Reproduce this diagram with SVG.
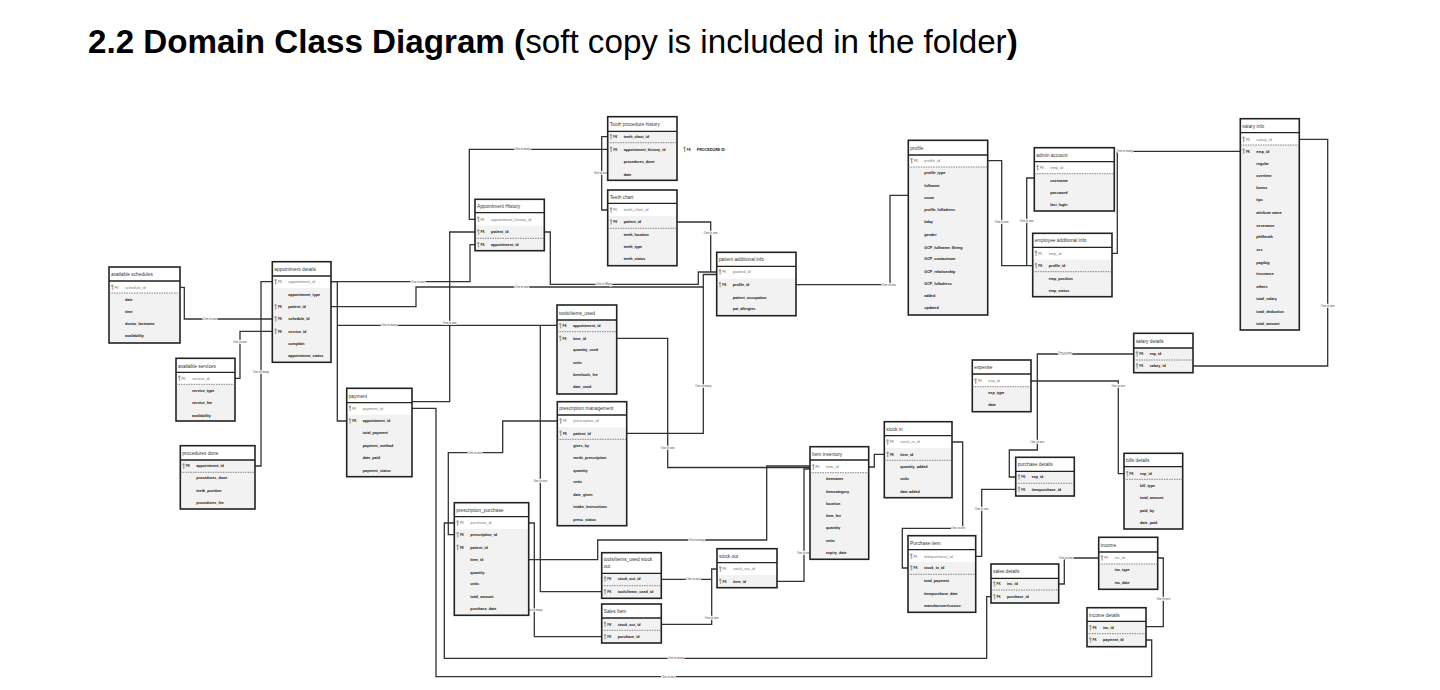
<svg xmlns="http://www.w3.org/2000/svg" xmlns:xlink="http://www.w3.org/1999/xlink" width="1440" height="690" viewBox="0 0 1440 690">
<style>
.ttl{font-family:"Liberation Sans",Arial,sans-serif;font-size:33.2px;fill:#000}
.bg{fill:#f2f2f2}
.w{fill:#fff}
.box{fill:none;stroke:#222;stroke-width:1.6}
.hl{stroke:#222;stroke-width:1.3}
.dl{stroke:#666;stroke-width:0.8;stroke-dasharray:1.5 1}
.t{font-family:"Liberation Sans",Arial,sans-serif;font-size:4.8px;fill:#333}
.f{font-family:"Liberation Sans",Arial,sans-serif;font-size:3.7px;font-weight:bold;fill:#111}
.p{font-family:"Liberation Sans",Arial,sans-serif;font-size:3.9px;fill:#777}
.k{font-family:"Liberation Sans",Arial,sans-serif;font-size:3px;font-weight:bold;fill:#222}
.kp{font-family:"Liberation Sans",Arial,sans-serif;font-size:3px;fill:#666}
.cn path{fill:none;stroke:#333;stroke-width:1.3}
.c{font-family:"Liberation Sans",Arial,sans-serif;font-size:2.8px;fill:#444;text-anchor:middle;paint-order:stroke;stroke:#fff;stroke-width:1.4}
</style>
<defs>
<g id="key"><circle cx="0" cy="0" r="1.2" fill="#9a9a9a"/><rect x="-0.45" y="0.8" width="0.9" height="3.6" fill="#9a9a9a"/><rect x="0.3" y="3.1" width="0.9" height="0.6" fill="#9a9a9a"/><rect x="0.3" y="2.1" width="0.7" height="0.5" fill="#9a9a9a"/></g>
</defs>
<rect width="1440" height="690" fill="#fff"/>
<text class="ttl" x="88" y="53"><tspan font-weight="bold">2.2 Domain Class Diagram (</tspan>soft copy is included in the folder<tspan font-weight="bold">)</tspan></text>

<g id="connectors" class="cn">
<path d="M180,287.3 H184.3 V319 H272.3"/>
<path d="M235,378.3 H240 V331.3 H272.3"/>
<path d="M255,466 H261 V281.7 H272.3"/>
<path d="M331,281.7 H337.3 V421 H346.7"/>
<path d="M331,281.7 H470 V244.7 H475"/>
<path d="M331,306.7 H416 V287 H703.3 V274.5 H716.7"/>
<path d="M337.3,325.3 H557"/>
<path d="M475,232 H449.7 V401.7 H412"/>
<path d="M544.3,232 H550.3 V284.3 H698.3 V272 H716.7"/>
<path d="M475,219.3 H469.3 V149.3 H607.7"/>
<path d="M607.7,136.7 H601.7 V210 H607.7"/>
<path d="M677,222 H710.7 V272"/>
<path d="M796,284.7 H890 V195.3 H908.3"/>
<path d="M987.7,160.7 H1001.7 V265.7 H1032.7"/>
<path d="M1034.3,178 H1026.7 V265.7"/>
<path d="M1112,253.3 H1117.3 V151.3 H1240.3"/>
<path d="M1299.3,139.3 H1327.7 V366 H1193"/>
<path d="M1133.7,354 H1037.3 V450 H1009.3 V477 H1015.7"/>
<path d="M1031,381 H1118.3 V473.7 H1124"/>
<path d="M1015.7,489.3 H981.7 V556.3 H975.7"/>
<path d="M952,442 H962.7 V528.3 H902.3 V568 H908"/>
<path d="M884.3,454.3 H874.3 V467 H868.7"/>
<path d="M777,581.3 H804 V469 H810"/>
<path d="M528.7,559.7 H597.7 V540 H766.7 V466 H810"/>
<path d="M616.7,338.3 H667.7 V467.5 H810"/>
<path d="M626.7,433.3 H703.3 V287"/>
<path d="M557.3,421 H502.7 V452.7 H448.3 V534.7 H454.3"/>
<path d="M540.3,325.7 V591.7 H601.7"/>
<path d="M528.7,523 H534.3 V636.7 H601.7"/>
<path d="M454.3,523 H444.3 V658.3 H986.7 V596.7 H991"/>
<path d="M412,408.3 H436 V676.7 H1151.7 V640 H1146"/>
<path d="M661.3,624.3 H711.7 V569 H717"/>
<path d="M661.3,579.3 H711.7"/>
<path d="M1098.7,558 H1064.3 V584 H1058.7"/>
<path d="M1157.7,558 H1163.3 V626.7 H1146"/>
<text class="c" x="210" y="320">One to one</text>
<text class="c" x="240" y="342.7">One to one</text>
<text class="c" x="261" y="372.7">One to many</text>
<text class="c" x="418" y="283">One to one</text>
<text class="c" x="521.7" y="288">One to one</text>
<text class="c" x="604" y="285.3">One to Many</text>
<text class="c" x="389.3" y="326.3">One to many</text>
<text class="c" x="449.7" y="324.3">One to one</text>
<text class="c" x="522.7" y="150.3">One to many</text>
<text class="c" x="601.7" y="174.3">One to many</text>
<text class="c" x="710.7" y="234.3">One to one</text>
<text class="c" x="889" y="285.7">One to one</text>
<text class="c" x="1001.7" y="223.3">One to one</text>
<text class="c" x="1026.7" y="222.3">One to one</text>
<text class="c" x="1125" y="152.3">One to many</text>
<text class="c" x="1327.7" y="307">One to one</text>
<text class="c" x="1065" y="354.3">One to one</text>
<text class="c" x="1037.3" y="443.3">One to one</text>
<text class="c" x="1118.3" y="387">One to one</text>
<text class="c" x="981.7" y="510.3">One to one</text>
<text class="c" x="958.3" y="529.3">One to one</text>
<text class="c" x="804" y="554.3">One to one</text>
<text class="c" x="696.7" y="541">One to many</text>
<text class="c" x="667.7" y="449.3">One to one</text>
<text class="c" x="703.3" y="386.5">One to many</text>
<text class="c" x="475" y="453.7">One to one</text>
<text class="c" x="540.3" y="481.7">One to one</text>
<text class="c" x="534.3" y="611">One to many</text>
<text class="c" x="676" y="659.3">One to many</text>
<text class="c" x="668.3" y="677.7">One to one</text>
<text class="c" x="711.7" y="619.3">One to one</text>
<text class="c" x="693.3" y="580.3">One to one</text>
<text class="c" x="1066" y="559">One to one</text>
<text class="c" x="1163.3" y="599.7">One to one</text>
</g>

<g id="available-schedules">
<rect class="bg" x="109" y="281" width="71" height="62"/><rect class="w" x="109" y="281" width="71" height="12"/>
<rect class="box" x="109" y="267" width="71" height="76"/><line class="hl" x1="109" y1="281" x2="180" y2="281"/><line class="dl" x1="109" y1="293" x2="180" y2="293"/>
<text class="t" x="111" y="276">available schedules</text>
<use href="#key" x="112.3" y="285.7"/><text class="kp" x="114.6" y="288.6">PK</text><text class="p" x="125" y="288.6">schedule_id</text>
<text class="f" x="125" y="300.6">date</text><text class="f" x="125" y="313">time</text><text class="f" x="125" y="325.3">doctor_lastname</text><text class="f" x="125" y="337.3">availability</text>
</g>

<g id="appointment-details">
<rect class="bg" x="272.3" y="276" width="58.7" height="86.3"/><rect class="w" x="272.3" y="276" width="58.7" height="12"/>
<rect class="box" x="272.3" y="261.7" width="58.7" height="100.6"/><line class="hl" x1="272.3" y1="276" x2="331" y2="276"/>
<text class="t" x="274.3" y="271">appointment details</text>
<use href="#key" x="275.6" y="280.1"/><text class="kp" x="277.9" y="283">PK</text><text class="p" x="288.3" y="283">appointment_id</text>
<text class="f" x="288.3" y="296">appointment_type</text>
<use href="#key" x="275.6" y="305.1"/><text class="k" x="277.9" y="308">FK</text><text class="f" x="288.3" y="308">patient_id</text>
<use href="#key" x="275.6" y="317.1"/><text class="k" x="277.9" y="320">FK</text><text class="f" x="288.3" y="320">schedule_id</text>
<use href="#key" x="275.6" y="329.7"/><text class="k" x="277.9" y="332.6">FK</text><text class="f" x="288.3" y="332.6">service_id</text>
<text class="f" x="288.3" y="344.6">complain</text><text class="f" x="288.3" y="357">appointment_status</text>
</g>

<g id="available-services">
<rect class="bg" x="176" y="372.3" width="59" height="48.7"/><rect class="w" x="176" y="372.3" width="59" height="12"/>
<rect class="box" x="176" y="358.3" width="59" height="62.7"/><line class="hl" x1="176" y1="372.3" x2="235" y2="372.3"/><line class="dl" x1="176" y1="384.3" x2="235" y2="384.3"/>
<text class="t" x="178" y="367.5">available services</text>
<use href="#key" x="179.3" y="376.7"/><text class="kp" x="181.6" y="379.6">PK</text><text class="p" x="192" y="379.6">service_id</text>
<text class="f" x="192" y="392.3">service_type</text><text class="f" x="192" y="404">service_fee</text><text class="f" x="192" y="416.6">availability</text>
</g>

<g id="procedures-done">
<rect class="bg" x="180.3" y="460" width="74.7" height="49"/>
<rect class="box" x="180.3" y="445.7" width="74.7" height="63.3"/><line class="hl" x1="180.3" y1="460" x2="255" y2="460"/><line class="dl" x1="180.3" y1="472.3" x2="255" y2="472.3"/>
<text class="t" x="182.3" y="455">procedures done</text>
<use href="#key" x="183.6" y="464.4"/><text class="k" x="185.9" y="467.3">FK</text><text class="f" x="196.3" y="467.3">appointment_id</text>
<text class="f" x="196.3" y="479">procedures_done</text><text class="f" x="196.3" y="491.6">teeth_position</text><text class="f" x="196.3" y="504">procedures_fee</text>
</g>

<g id="payment">
<rect class="bg" x="346.7" y="402.7" width="65.3" height="74"/><rect class="w" x="346.7" y="402.7" width="65.3" height="12"/>
<rect class="box" x="346.7" y="388.3" width="65.3" height="88.4"/><line class="hl" x1="346.7" y1="402.7" x2="412" y2="402.7"/>
<text class="t" x="348.7" y="397.8">payment</text>
<use href="#key" x="350" y="406.7"/><text class="kp" x="352.3" y="409.6">PK</text><text class="p" x="362.7" y="409.6">payment_id</text>
<use href="#key" x="350" y="419.4"/><text class="k" x="352.3" y="422.3">FK</text><text class="f" x="362.7" y="422.3">appointment_id</text>
<text class="f" x="362.7" y="434">total_payment</text><text class="f" x="362.7" y="446.6">payment_method</text><text class="f" x="362.7" y="459">date_paid</text><text class="f" x="362.7" y="471.6">payment_status</text>
</g>

<g id="appointment-history">
<rect class="bg" x="475" y="212.7" width="69.3" height="38"/><rect class="w" x="475" y="212.7" width="69.3" height="13"/>
<rect class="box" x="475" y="199.3" width="69.3" height="51.4"/><line class="hl" x1="475" y1="212.7" x2="544.3" y2="212.7"/><line class="dl" x1="475" y1="238.3" x2="544.3" y2="238.3"/>
<text class="t" x="477" y="208.2">Appointment History</text>
<use href="#key" x="478.3" y="217.7"/><text class="kp" x="480.6" y="220.6">PK</text><text class="p" x="491" y="220.6">appointment_history_id</text>
<use href="#key" x="478.3" y="230.4"/><text class="k" x="480.6" y="233.3">FK</text><text class="f" x="491" y="233.3">patient_id</text>
<use href="#key" x="478.3" y="243.1"/><text class="k" x="480.6" y="246">FK</text><text class="f" x="491" y="246">appointment_id</text>
</g>

<g id="tooth-procedure-history">
<rect class="bg" x="607.7" y="131.3" width="69.3" height="49"/>
<rect class="box" x="607.7" y="116.7" width="69.3" height="63.6"/><line class="hl" x1="607.7" y1="131.3" x2="677" y2="131.3"/><line class="dl" x1="607.7" y1="142.7" x2="677" y2="142.7"/>
<text class="t" x="609.7" y="125.8">Tooth procedure history</text>
<use href="#key" x="611" y="135.1"/><text class="k" x="613.3" y="138">FK</text><text class="f" x="623.7" y="138">teeth_chart_id</text>
<use href="#key" x="611" y="147.7"/><text class="k" x="613.3" y="150.6">FK</text><text class="f" x="623.7" y="150.6">appointment_history_id</text>
<text class="f" x="623.7" y="163.3">procedures_done</text><text class="f" x="623.7" y="175.6">date</text>
<use href="#key" x="684.5" y="147.7"/><text class="k" x="686.8" y="150.6">FK</text><text class="f" x="696.7" y="150.6">PROCEDURE ID</text>
</g>

<g id="teeth-chart">
<rect class="bg" x="607.7" y="203.3" width="69.3" height="62.4"/><rect class="w" x="607.7" y="203.3" width="69.3" height="12.7"/>
<rect class="box" x="607.7" y="190" width="69.3" height="75.7"/><line class="hl" x1="607.7" y1="203.3" x2="677" y2="203.3"/><line class="dl" x1="607.7" y1="228.3" x2="677" y2="228.3"/>
<text class="t" x="609.7" y="198.5">Teeth chart</text>
<use href="#key" x="611" y="208.4"/><text class="kp" x="613.3" y="211.3">PK</text><text class="p" x="623.7" y="211.3">teeth_chart_id</text>
<use href="#key" x="611" y="220.4"/><text class="k" x="613.3" y="223.3">FK</text><text class="f" x="623.7" y="223.3">patient_id</text>
<text class="f" x="623.7" y="236">teeth_location</text><text class="f" x="623.7" y="248.3">teeth_type</text><text class="f" x="623.7" y="260">teeth_status</text>
</g>

<g id="tools-items-used">
<rect class="bg" x="557" y="320" width="59.7" height="74"/>
<rect class="box" x="557" y="305" width="59.7" height="89"/><line class="hl" x1="557" y1="320" x2="616.7" y2="320"/><line class="dl" x1="557" y1="331.7" x2="616.7" y2="331.7"/>
<text class="t" x="559" y="314.5">tools/items_used</text>
<use href="#key" x="560.3" y="324.1"/><text class="k" x="562.6" y="327">FK</text><text class="f" x="573" y="327">appointment_id</text>
<use href="#key" x="560.3" y="336.7"/><text class="k" x="562.6" y="339.6">FK</text><text class="f" x="573" y="339.6">item_id</text>
<text class="f" x="573" y="351.3">quantity_used</text><text class="f" x="573" y="364">units</text><text class="f" x="573" y="376.3">item/tools_fee</text><text class="f" x="573" y="388">date_used</text>
</g>

<g id="prescription-management">
<rect class="bg" x="557.3" y="415" width="69.4" height="110.7"/><rect class="w" x="557.3" y="415" width="69.4" height="12.2"/>
<rect class="box" x="557.3" y="401.7" width="69.4" height="124"/><line class="hl" x1="557.3" y1="415" x2="626.7" y2="415"/><line class="dl" x1="557.3" y1="439.3" x2="626.7" y2="439.3"/>
<text class="t" x="559.3" y="410.4">prescription management</text>
<use href="#key" x="560.6" y="419.4"/><text class="kp" x="562.9" y="422.3">PK</text><text class="p" x="573.3" y="422.3">prescription_id</text>
<use href="#key" x="560.6" y="431.7"/><text class="k" x="562.9" y="434.6">FK</text><text class="f" x="573.3" y="434.6">patient_id</text>
<text class="f" x="573.3" y="446.6">gives_by</text><text class="f" x="573.3" y="459.3">meds_prescription</text><text class="f" x="573.3" y="471.6">quantity</text><text class="f" x="573.3" y="483.3">units</text><text class="f" x="573.3" y="496">date_given</text><text class="f" x="573.3" y="508.3">intake_instructions</text><text class="f" x="573.3" y="521">presc_status</text>
</g>

<g id="prescription-purchase">
<rect class="bg" x="454.3" y="516.7" width="74.4" height="98.6"/><rect class="w" x="454.3" y="516.7" width="74.4" height="12.3"/>
<rect class="box" x="454.3" y="502.7" width="74.4" height="112.6"/><line class="hl" x1="454.3" y1="516.7" x2="528.7" y2="516.7"/>
<text class="t" x="456.3" y="511.8">prescription_purchase</text>
<use href="#key" x="457.6" y="521.4"/><text class="kp" x="459.9" y="524.3">PK</text><text class="p" x="470.3" y="524.3">purchase_id</text>
<use href="#key" x="457.6" y="533.1"/><text class="k" x="459.9" y="536">FK</text><text class="f" x="470.3" y="536">prescription_id</text>
<use href="#key" x="457.6" y="545.7"/><text class="k" x="459.9" y="548.6">FK</text><text class="f" x="470.3" y="548.6">patient_id</text>
<text class="f" x="470.3" y="561">item_id</text><text class="f" x="470.3" y="573.6">quantity</text><text class="f" x="470.3" y="585.3">units</text><text class="f" x="470.3" y="598">total_amount</text><text class="f" x="470.3" y="610.3">purchase_date</text>
</g>

<g id="tools-items-used-stock-out">
<rect class="bg" x="601.7" y="573.3" width="59.6" height="25"/>
<rect class="box" x="601.7" y="552.7" width="59.6" height="45.6"/><line class="hl" x1="601.7" y1="573.3" x2="661.3" y2="573.3"/><line class="dl" x1="601.7" y1="585.7" x2="661.3" y2="585.7"/>
<text class="t" x="603.7" y="561.3">tools/items_used stock</text><text class="t" x="603.7" y="568">out</text>
<use href="#key" x="605" y="577.4"/><text class="k" x="607.3" y="580.3">FK</text><text class="f" x="617.7" y="580.3">stock_out_id</text>
<use href="#key" x="605" y="590.1"/><text class="k" x="607.3" y="593">FK</text><text class="f" x="617.7" y="593">tools/items_used_id</text>
</g>

<g id="sales-item">
<rect class="bg" x="601.7" y="618" width="59.6" height="25"/>
<rect class="box" x="601.7" y="604" width="59.6" height="39"/><line class="hl" x1="601.7" y1="618" x2="661.3" y2="618"/><line class="dl" x1="601.7" y1="630.3" x2="661.3" y2="630.3"/>
<text class="t" x="603.7" y="613">Sales Item</text>
<use href="#key" x="605" y="622.7"/><text class="k" x="607.3" y="625.6">FK</text><text class="f" x="617.7" y="625.6">stock_out_id</text>
<use href="#key" x="605" y="635.1"/><text class="k" x="607.3" y="638">FK</text><text class="f" x="617.7" y="638">purchase_id</text>
</g>

<g id="stock-out">
<rect class="bg" x="717" y="562.7" width="60" height="25"/><rect class="w" x="717" y="562.7" width="60" height="12.3"/>
<rect class="box" x="717" y="548.7" width="60" height="39"/><line class="hl" x1="717" y1="562.7" x2="777" y2="562.7"/>
<text class="t" x="719" y="557.7">stock out</text>
<use href="#key" x="720.3" y="567.4"/><text class="kp" x="722.6" y="570.3">PK</text><text class="p" x="733" y="570.3">stock_out_id</text>
<use href="#key" x="720.3" y="579.7"/><text class="k" x="722.6" y="582.6">FK</text><text class="f" x="733" y="582.6">item_id</text>
</g>

<g id="patient-additional-info">
<rect class="bg" x="716.7" y="266.3" width="79.3" height="49.4"/><rect class="w" x="716.7" y="266.3" width="79.3" height="12.2"/>
<rect class="box" x="716.7" y="252.3" width="79.3" height="63.4"/><line class="hl" x1="716.7" y1="266.3" x2="796" y2="266.3"/>
<text class="t" x="718.7" y="261.3">patient additional info</text>
<use href="#key" x="720" y="270.4"/><text class="kp" x="722.3" y="273.3">PK</text><text class="p" x="732.7" y="273.3">patiend_id</text>
<use href="#key" x="720" y="283.1"/><text class="k" x="722.3" y="286">FK</text><text class="f" x="732.7" y="286">profile_id</text>
<text class="f" x="732.7" y="298.6">patient_occupation</text><text class="f" x="732.7" y="310.3">pat_allergies</text>
</g>

<g id="profile">
<rect class="bg" x="908.3" y="155" width="79.4" height="160"/><rect class="w" x="908.3" y="155" width="79.4" height="12"/>
<rect class="box" x="908.3" y="140.3" width="79.4" height="174.7"/><line class="hl" x1="908.3" y1="155" x2="987.7" y2="155"/><line class="dl" x1="908.3" y1="167" x2="987.7" y2="167"/>
<text class="t" x="910.3" y="150">profile</text>
<use href="#key" x="911.6" y="159.1"/><text class="kp" x="913.9" y="162">PK</text><text class="p" x="924.3" y="162">profile_id</text>
<text class="f" x="924.3" y="174">profile_type</text><text class="f" x="924.3" y="186.6">fullname</text><text class="f" x="924.3" y="199">cnum</text><text class="f" x="924.3" y="211">profile_fulladress</text><text class="f" x="924.3" y="223.3">bday</text><text class="f" x="924.3" y="236">gender</text><text class="f" x="924.3" y="248.6">GCP_fullname: String</text><text class="f" x="924.3" y="260.3">GCP_contactnum</text><text class="f" x="924.3" y="272.6">GCP_relationship</text><text class="f" x="924.3" y="285.3">GCP_fulladress</text><text class="f" x="924.3" y="297">added</text><text class="f" x="924.3" y="309.3">updated</text>
</g>

<g id="admin-account">
<rect class="bg" x="1034.3" y="161.7" width="80" height="49.3"/><rect class="w" x="1034.3" y="161.7" width="80" height="12"/>
<rect class="box" x="1034.3" y="147.7" width="80" height="63.3"/><line class="hl" x1="1034.3" y1="161.7" x2="1114.3" y2="161.7"/><line class="dl" x1="1034.3" y1="173.7" x2="1114.3" y2="173.7"/>
<text class="t" x="1036.3" y="156.7">admin account</text>
<use href="#key" x="1037.6" y="166.1"/><text class="kp" x="1039.9" y="169">PK</text><text class="p" x="1050.3" y="169">emp_id</text>
<text class="f" x="1050.3" y="181.6">username</text><text class="f" x="1050.3" y="193.6">password</text><text class="f" x="1050.3" y="206">last_login</text>
</g>

<g id="employee-additional-info">
<rect class="bg" x="1032.7" y="247.3" width="79.3" height="49.4"/><rect class="w" x="1032.7" y="247.3" width="79.3" height="12.2"/>
<rect class="box" x="1032.7" y="233.3" width="79.3" height="63.4"/><line class="hl" x1="1032.7" y1="247.3" x2="1112" y2="247.3"/><line class="dl" x1="1032.7" y1="271.7" x2="1112" y2="271.7"/>
<text class="t" x="1034.7" y="242.3">employee additional info</text>
<use href="#key" x="1036" y="251.7"/><text class="kp" x="1038.3" y="254.6">PK</text><text class="p" x="1048.7" y="254.6">emp_id</text>
<use href="#key" x="1036" y="264.1"/><text class="k" x="1038.3" y="267">FK</text><text class="f" x="1048.7" y="267">profile_id</text>
<text class="f" x="1048.7" y="279.6">emp_position</text><text class="f" x="1048.7" y="292">emp_status</text>
</g>

<g id="salary-info">
<rect class="bg" x="1240.3" y="132.7" width="59" height="197.3"/><rect class="w" x="1240.3" y="132.7" width="59" height="12.3"/>
<rect class="box" x="1240.3" y="118.7" width="59" height="211.3"/><line class="hl" x1="1240.3" y1="132.7" x2="1299.3" y2="132.7"/><line class="dl" x1="1240.3" y1="145" x2="1299.3" y2="145"/>
<text class="t" x="1242.3" y="127.7">salary info</text>
<use href="#key" x="1243.6" y="137.7"/><text class="kp" x="1245.9" y="140.6">PK</text><text class="p" x="1256.3" y="140.6">salary_id</text>
<use href="#key" x="1243.6" y="149.7"/><text class="k" x="1245.9" y="152.6">FK</text><text class="f" x="1256.3" y="152.6">emp_id</text>
<text class="f" x="1256.3" y="164.6">regular</text><text class="f" x="1256.3" y="177.3">overtime</text><text class="f" x="1256.3" y="189.3">bonus</text><text class="f" x="1256.3" y="201.3">tips</text><text class="f" x="1256.3" y="214">attribute name</text><text class="f" x="1256.3" y="226.6">severance</text><text class="f" x="1256.3" y="238.3">philheath</text><text class="f" x="1256.3" y="251">sss</text><text class="f" x="1256.3" y="263.6">pagibig</text><text class="f" x="1256.3" y="275.3">insurance</text><text class="f" x="1256.3" y="287.6">others</text><text class="f" x="1256.3" y="300.3">total_salary</text><text class="f" x="1256.3" y="313">total_deduction</text><text class="f" x="1256.3" y="324.6">total_amount</text>
</g>

<g id="salary-details">
<rect class="bg" x="1133.7" y="348" width="59.3" height="24.7"/>
<rect class="box" x="1133.7" y="333.3" width="59.3" height="39.4"/><line class="hl" x1="1133.7" y1="348" x2="1193" y2="348"/><line class="dl" x1="1133.7" y1="360" x2="1193" y2="360"/>
<text class="t" x="1135.7" y="342.6">salary details</text>
<use href="#key" x="1137" y="352.4"/><text class="k" x="1139.3" y="355.3">FK</text><text class="f" x="1149.7" y="355.3">exp_id</text>
<use href="#key" x="1137" y="364.4"/><text class="k" x="1139.3" y="367.3">FK</text><text class="f" x="1149.7" y="367.3">salary_id</text>
</g>

<g id="expense">
<rect class="bg" x="972.3" y="374" width="58.7" height="37.7"/><rect class="w" x="972.3" y="374" width="58.7" height="12.7"/>
<rect class="box" x="972.3" y="360" width="58.7" height="51.7"/><line class="hl" x1="972.3" y1="374" x2="1031" y2="374"/><line class="dl" x1="972.3" y1="386.7" x2="1031" y2="386.7"/>
<text class="t" x="974.3" y="369">expense</text>
<use href="#key" x="975.6" y="379.4"/><text class="kp" x="977.9" y="382.3">PK</text><text class="p" x="988.3" y="382.3">exp_id</text>
<text class="f" x="988.3" y="394">exp_type</text><text class="f" x="988.3" y="406.3">date</text>
</g>

<g id="purchase-details">
<rect class="bg" x="1015.7" y="471.3" width="58.6" height="24.7"/>
<rect class="box" x="1015.7" y="457.3" width="58.6" height="38.7"/><line class="hl" x1="1015.7" y1="471.3" x2="1074.3" y2="471.3"/><line class="dl" x1="1015.7" y1="483.3" x2="1074.3" y2="483.3"/>
<text class="t" x="1017.7" y="466.3">purchase details</text>
<use href="#key" x="1019" y="475.4"/><text class="k" x="1021.3" y="478.3">FK</text><text class="f" x="1031.7" y="478.3">exp_id</text>
<use href="#key" x="1019" y="487.7"/><text class="k" x="1021.3" y="490.6">FK</text><text class="f" x="1031.7" y="490.6">itempurchase_id</text>
</g>

<g id="bills-details">
<rect class="bg" x="1124" y="466.7" width="58.7" height="62.3"/>
<rect class="box" x="1124" y="453.3" width="58.7" height="75.7"/><line class="hl" x1="1124" y1="466.7" x2="1182.7" y2="466.7"/><line class="dl" x1="1124" y1="479.3" x2="1182.7" y2="479.3"/>
<text class="t" x="1126" y="462">bills details</text>
<use href="#key" x="1127.3" y="472.1"/><text class="k" x="1129.6" y="475">FK</text><text class="f" x="1140" y="475">exp_id</text>
<text class="f" x="1140" y="486.6">bill_type</text><text class="f" x="1140" y="499">total_amount</text><text class="f" x="1140" y="511.6">paid_by</text><text class="f" x="1140" y="523.6">date_paid</text>
</g>

<g id="item-inventory">
<rect class="bg" x="810" y="460" width="58.7" height="99.3"/><rect class="w" x="810" y="460" width="58.7" height="12.7"/>
<rect class="box" x="810" y="446.7" width="58.7" height="112.6"/><line class="hl" x1="810" y1="460" x2="868.7" y2="460"/><line class="dl" x1="810" y1="472.7" x2="868.7" y2="472.7"/>
<text class="t" x="812" y="455.5">Item inventory</text>
<use href="#key" x="813.3" y="465.4"/><text class="kp" x="815.6" y="468.3">PK</text><text class="p" x="826" y="468.3">item_id</text>
<text class="f" x="826" y="480">itemname</text><text class="f" x="826" y="492.6">itemcategory</text><text class="f" x="826" y="505">location</text><text class="f" x="826" y="516.6">item_fee</text><text class="f" x="826" y="529.3">quantity</text><text class="f" x="826" y="542">units</text><text class="f" x="826" y="554.3">expiry_date</text>
</g>

<g id="stock-in">
<rect class="bg" x="884.3" y="435.7" width="67.7" height="62"/><rect class="w" x="884.3" y="435.7" width="67.7" height="12.3"/>
<rect class="box" x="884.3" y="421.7" width="67.7" height="76"/><line class="hl" x1="884.3" y1="435.7" x2="952" y2="435.7"/><line class="dl" x1="884.3" y1="460.3" x2="952" y2="460.3"/>
<text class="t" x="886.3" y="430.7">stock in</text>
<use href="#key" x="887.6" y="440.4"/><text class="kp" x="889.9" y="443.3">PK</text><text class="p" x="900.3" y="443.3">stock_in_id</text>
<use href="#key" x="887.6" y="452.7"/><text class="k" x="889.9" y="455.6">FK</text><text class="f" x="900.3" y="455.6">item_id</text>
<text class="f" x="900.3" y="468.3">quantity_added</text><text class="f" x="900.3" y="480">units</text><text class="f" x="900.3" y="492.6">date added</text>
</g>

<g id="purchase-item">
<rect class="bg" x="908" y="549.7" width="67.7" height="62.6"/><rect class="w" x="908" y="549.7" width="67.7" height="12.3"/>
<rect class="box" x="908" y="535.7" width="67.7" height="76.6"/><line class="hl" x1="908" y1="549.7" x2="975.7" y2="549.7"/><line class="dl" x1="908" y1="574.3" x2="975.7" y2="574.3"/>
<text class="t" x="910" y="544.7">Purchase item</text>
<use href="#key" x="911.3" y="554.7"/><text class="kp" x="913.6" y="557.6">PK</text><text class="p" x="924" y="557.6">itempurchase_id</text>
<use href="#key" x="911.3" y="566.4"/><text class="k" x="913.6" y="569.3">FK</text><text class="f" x="924" y="569.3">stock_in_id</text>
<text class="f" x="924" y="582">total_payment</text><text class="f" x="924" y="594.6">itempurchase_date</text><text class="f" x="924" y="607.3">manufacturer/source</text>
</g>

<g id="sales-details">
<rect class="bg" x="991" y="578.3" width="67.7" height="24.7"/>
<rect class="box" x="991" y="564" width="67.7" height="39"/><line class="hl" x1="991" y1="578.3" x2="1058.7" y2="578.3"/><line class="dl" x1="991" y1="590" x2="1058.7" y2="590"/>
<text class="t" x="993" y="573.3">sales details</text>
<use href="#key" x="994.3" y="582.4"/><text class="k" x="996.6" y="585.3">FK</text><text class="f" x="1007" y="585.3">inc_id</text>
<use href="#key" x="994.3" y="595.1"/><text class="k" x="996.6" y="598">FK</text><text class="f" x="1007" y="598">purchase_id</text>
</g>

<g id="income">
<rect class="bg" x="1098.7" y="552" width="59" height="37.3"/><rect class="w" x="1098.7" y="552" width="59" height="12"/>
<rect class="box" x="1098.7" y="537.3" width="59" height="52"/><line class="hl" x1="1098.7" y1="552" x2="1157.7" y2="552"/><line class="dl" x1="1098.7" y1="564" x2="1157.7" y2="564"/>
<text class="t" x="1100.7" y="546.8">income</text>
<use href="#key" x="1102" y="556.4"/><text class="kp" x="1104.3" y="559.3">PK</text><text class="p" x="1114.7" y="559.3">inc_id</text>
<text class="f" x="1114.7" y="571.3">inc_type</text><text class="f" x="1114.7" y="583.6">inc_date</text>
</g>

<g id="income-details">
<rect class="bg" x="1087" y="621.3" width="59" height="25.4"/>
<rect class="box" x="1087" y="607.7" width="59" height="39"/><line class="hl" x1="1087" y1="621.3" x2="1146" y2="621.3"/><line class="dl" x1="1087" y1="633.7" x2="1146" y2="633.7"/>
<text class="t" x="1089" y="616.6">income details</text>
<use href="#key" x="1090.3" y="626.1"/><text class="k" x="1092.6" y="629">FK</text><text class="f" x="1103" y="629">inc_id</text>
<use href="#key" x="1090.3" y="638.4"/><text class="k" x="1092.6" y="641.3">FK</text><text class="f" x="1103" y="641.3">payment_id</text>
</g>
</svg>
